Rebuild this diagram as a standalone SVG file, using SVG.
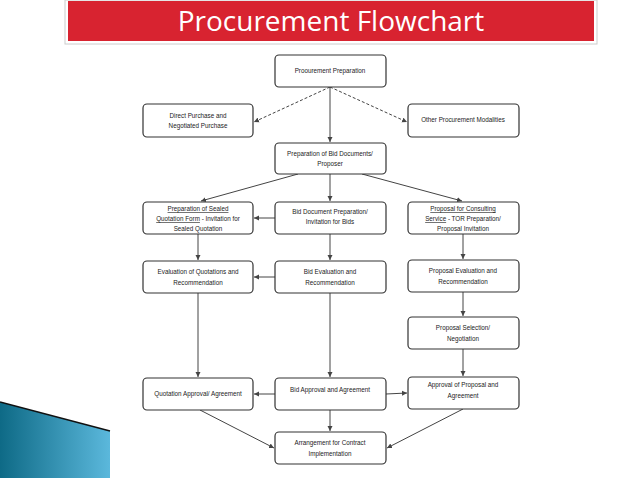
<svg xmlns="http://www.w3.org/2000/svg" width="638" height="478" viewBox="0 0 638 478">
<style>
.n rect{fill:#fff;stroke:#333;stroke-width:1.2}
.n text{font-family:"Liberation Sans",Arial,sans-serif;font-size:6.3px;fill:#222;text-anchor:middle}
.c line{stroke:#444;stroke-width:1;marker-end:url(#a)}
.c .d{stroke-dasharray:3,2}
</style>
<defs><marker id="a" markerWidth="6" markerHeight="6" refX="5" refY="3" orient="auto" markerUnits="userSpaceOnUse"><path d="M0,0.5L5,3L0,5.5z" fill="#444"/></marker>
<linearGradient id="g" x1="0" y1="0" x2="1" y2="0"><stop offset="0" stop-color="#0e6a86"/><stop offset="1" stop-color="#5bb8dc"/></linearGradient></defs>
<rect width="638" height="478" fill="#fff"/>
<g id="title"><rect x="67" y="0" width="528" height="42" fill="#d82330" stroke="#fff" stroke-width="2"/><rect x="65" y="0" width="532" height="44" fill="none" stroke="#ccc" stroke-width="1"/>
<text x="331" y="31" font-family="'Open Sans','DejaVu Sans',sans-serif" font-size="28" fill="#fff" text-anchor="middle">Procurement Flowchart</text></g>
<g id="deco"><polygon points="0,402 110,431 110,478 0,478" fill="url(#g)"/><line x1="0" y1="402" x2="110" y2="431" stroke="#111" stroke-width="1.5"/></g>
<g class="c">
<line class="d" x1="330" y1="87" x2="254" y2="122"/>
<line class="d" x1="330" y1="87" x2="407" y2="122"/>
<line x1="330" y1="87" x2="330" y2="142"/>
<line x1="298" y1="174" x2="201" y2="201"/>
<line x1="362" y1="174" x2="462" y2="201"/>
<line x1="330" y1="174" x2="330" y2="201"/>
<line x1="275" y1="218" x2="254" y2="218"/>
<line x1="198" y1="234" x2="198" y2="260"/>
<line x1="330" y1="234" x2="330" y2="260"/>
<line x1="463" y1="234" x2="463" y2="259"/>
<line x1="275" y1="277" x2="254" y2="277"/>
<line x1="463" y1="292" x2="463" y2="316"/>
<line x1="198" y1="293" x2="198" y2="377"/>
<line x1="330" y1="293" x2="330" y2="377"/>
<line x1="463" y1="349" x2="463" y2="376"/>
<line x1="275" y1="394" x2="254" y2="394"/>
<line x1="386" y1="394" x2="407" y2="393"/>
<line x1="200" y1="410" x2="274" y2="448"/>
<line x1="463" y1="409" x2="387" y2="448"/>
<line x1="330" y1="410" x2="330" y2="431"/>
</g>
<g id="n1" class="n"><rect x="275" y="55" width="111" height="32" rx="4"/><text x="330" y="73">Proourement Preparation</text></g>
<g id="n2" class="n"><rect x="143" y="104" width="110" height="33" rx="4"/><text x="198" y="118">Direct Purchase and</text><text x="198" y="128">Negotiated Purchase</text></g>
<g id="n3" class="n"><rect x="408" y="104" width="111" height="33" rx="4"/><text x="463" y="122">Other Procurement Modalities</text></g>
<g id="n4" class="n"><rect x="275" y="143" width="111" height="31" rx="4"/><text x="330" y="156">Preparation of Bid Documents/</text><text x="330" y="166">Proposer</text></g>
<g id="n5" class="n"><rect x="143" y="202" width="110" height="32" rx="4"/><text x="198" y="211" text-decoration="underline">Preparation of Sealed</text><text x="198" y="221"><tspan text-decoration="underline">Quotation Form</tspan> - Invitation for</text><text x="198" y="231">Sealed Quotation</text></g>
<g id="n6" class="n"><rect x="275" y="202" width="111" height="32" rx="4"/><text x="330" y="214">Bid Document Preparation/</text><text x="330" y="224">Invitation for Bids</text></g>
<g id="n7" class="n"><rect x="408" y="202" width="111" height="32" rx="4"/><text x="463" y="211" text-decoration="underline">Proposal for Consulting</text><text x="463" y="221"><tspan text-decoration="underline">Service</tspan> - TOR Preparation/</text><text x="463" y="231">Proposal Invitation</text></g>
<g id="n8" class="n"><rect x="143" y="261" width="110" height="32" rx="4"/><text x="198" y="274">Evaluation of Quotations and</text><text x="198" y="285">Recommendation</text></g>
<g id="n9" class="n"><rect x="275" y="261" width="111" height="32" rx="4"/><text x="330" y="274">Bid Evaluation and</text><text x="330" y="285">Recommendation</text></g>
<g id="n10" class="n"><rect x="408" y="260" width="111" height="32" rx="4"/><text x="463" y="273">Proposal Evaluation and</text><text x="463" y="284">Recommendation</text></g>
<g id="n11" class="n"><rect x="408" y="317" width="111" height="32" rx="4"/><text x="463" y="330">Proposal Selection/</text><text x="463" y="341">Negotiation</text></g>
<g id="n12" class="n"><rect x="143" y="378" width="110" height="32" rx="4"/><text x="198" y="396">Quotation Approval/ Agreement</text></g>
<g id="n13" class="n"><rect x="275" y="378" width="111" height="32" rx="4"/><text x="330" y="392">Bid Approval and Agreement</text></g>
<g id="n14" class="n"><rect x="408" y="377" width="111" height="32" rx="4"/><text x="463" y="387">Approval of Proposal and</text><text x="463" y="398">Agreement</text></g>
<g id="n15" class="n"><rect x="275" y="432" width="111" height="32" rx="4"/><text x="330" y="445">Arrangement for Contract</text><text x="330" y="456">Implementation</text></g>
</svg>
